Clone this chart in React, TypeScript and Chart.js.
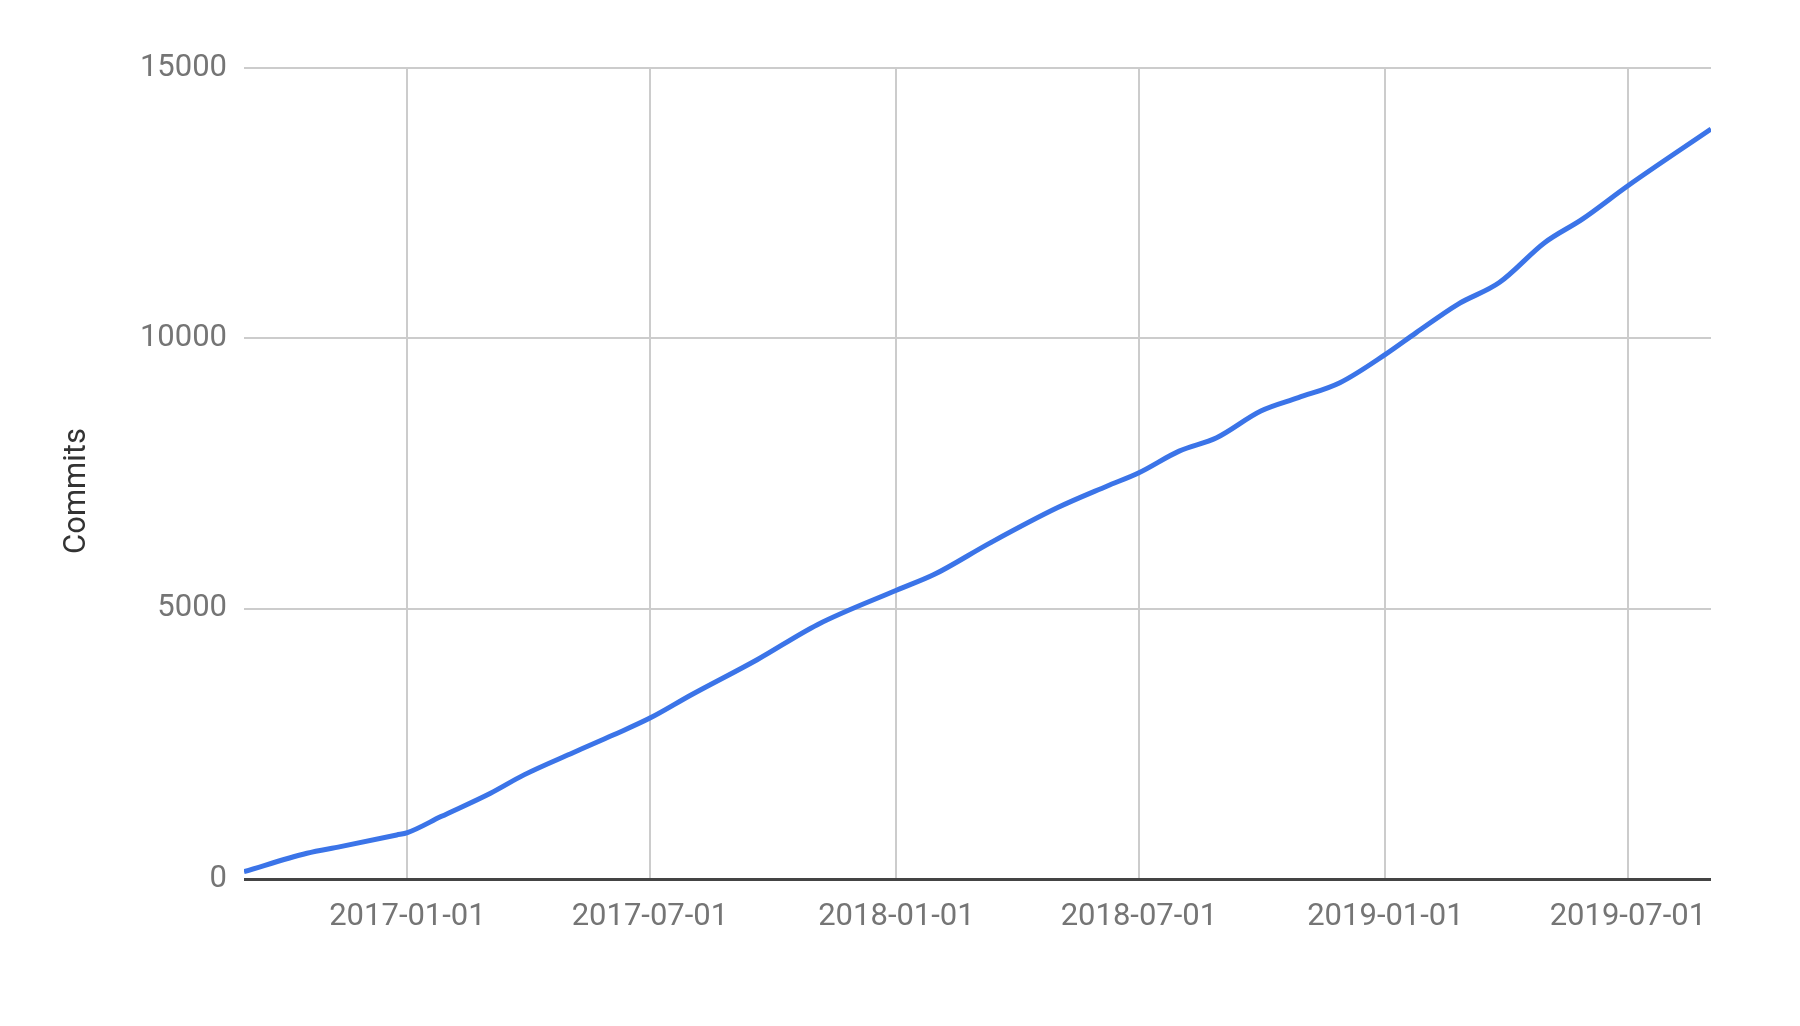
import React, { useEffect, useRef } from "react";
import { Chart, registerables } from "chart.js";

Chart.register(...registerables);

const dates: string[] = [
  "2016-09-01", "2016-10-18", "2016-11-12", "2016-12-24", "2017-01-01",
  "2017-01-26", "2017-03-04", "2017-03-29", "2017-05-05", "2017-06-04",
  "2017-07-01", "2017-08-01", "2017-09-19", "2017-11-03", "2018-01-01",
  "2018-01-29", "2018-03-12", "2018-05-01", "2018-06-07", "2018-07-01",
  "2018-07-31", "2018-08-28", "2018-09-30", "2018-10-28", "2018-11-28",
  "2019-01-01", "2019-01-24", "2019-02-24", "2019-03-27", "2019-04-30",
  "2019-05-28", "2019-07-01", "2019-09-01",
];

const commits: number[] = [
  135, 476, 598, 815, 858,
  1154, 1587, 1926, 2340, 2667,
  2976, 3408, 4056, 4704, 5340,
  5630, 6217, 6865, 7265, 7514,
  7914, 8161, 8655, 8902, 9180,
  9704, 10106, 10630, 11032, 11773,
  12205, 12822, 13871,
];

const xTickLabels: string[] = [
  "2017-01-01", "2017-07-01", "2018-01-01", "2018-07-01", "2019-01-01", "2019-07-01",
];

const yTicks: number[] = [0, 5000, 10000, 15000];

const xMin = "2016-09-01";
const xMax = "2019-09-01";
const yTitle = "Commits";

const toMs = (d: string) => Date.parse(d + "T00:00:00Z");
const fmt = (v: number) => new Date(v).toISOString().slice(0, 10);

export default function App() {
  const ref = useRef<HTMLCanvasElement | null>(null);

  useEffect(() => {
    document.body.style.margin = "0";
    const canvas = ref.current;
    if (!canvas) return;

    const titlePlugin = {
      id: "yTitlePlugin",
      afterDraw(chart: any) {
        const ctx = chart.ctx;
        ctx.save();
        ctx.translate(77, 491);
        ctx.rotate(-Math.PI / 2);
        ctx.font = "31px Roboto";
        ctx.fillStyle = "#333333";
        ctx.textAlign = "center";
        ctx.textBaseline = "middle";
        ctx.fillText(yTitle, 0, 0);
        ctx.restore();
      },
    };

    const chart = new Chart(canvas, {
      type: "line",
      data: {
        datasets: [
          {
            label: yTitle,
            data: dates.map((d, i) => ({ x: toMs(d), y: commits[i] })),
            borderColor: "#3b74e8",
            backgroundColor: "#3b74e8",
            borderWidth: 5,
            pointRadius: 0,
            cubicInterpolationMode: "monotone",
            fill: false,
          },
        ],
      },
      options: {
        animation: false,
        responsive: true,
        maintainAspectRatio: false,
        devicePixelRatio: 1,
        layout: { padding: { top: 68, right: 89, left: 0, bottom: 0 } },
        plugins: {
          legend: { display: false },
          tooltip: { enabled: false },
        },
        scales: {
          x: {
            type: "linear",
            min: toMs(xMin),
            max: toMs(xMax),
            border: { display: false },
            grid: {
              color: "#cccccc",
              lineWidth: 2,
              drawTicks: false,
            },
            ticks: {
              padding: 20,
              color: "#757575",
              font: { family: "Roboto", size: 31 },
              maxRotation: 0,
              autoSkip: false,
              callback: (v: any) => fmt(Number(v)),
            },
            afterBuildTicks: (scale: any) => {
              scale.ticks = xTickLabels.map((d) => ({ value: toMs(d) }));
            },
            afterFit: (scale: any) => {
              scale.height = 147;
            },
          },
          y: {
            type: "linear",
            min: 0,
            max: 15000,
            border: { display: false },
            grid: {
              color: (c: any) => (c.tick && c.tick.value === 0 ? "#444444" : "#cccccc"),
              lineWidth: (c: any) => (c.tick && c.tick.value === 0 ? 3 : 2),
              drawTicks: false,
            },
            ticks: {
              padding: 17,
              color: "#757575",
              font: { family: "Roboto", size: 31 },
              callback: (v: any) => String(v),
            },
            afterBuildTicks: (scale: any) => {
              scale.ticks = yTicks.map((v) => ({ value: v }));
            },
            afterFit: (scale: any) => {
              scale.width = 244;
            },
          },
        },
      },
      plugins: [titlePlugin],
    } as any);

    return () => chart.destroy();
  }, []);

  return (
    <div style={{ width: 1800, height: 1026, position: "relative", background: "#ffffff" }}>
      <canvas ref={ref} />
    </div>
  );
}
